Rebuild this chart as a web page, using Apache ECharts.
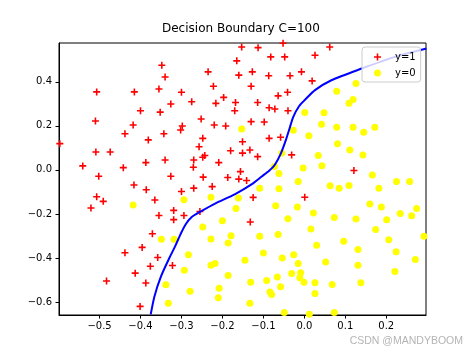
<!DOCTYPE html>
<html>
<head>
<meta charset="utf-8">
<script src="https://cdn.jsdelivr.net/npm/echarts@6/dist/echarts.min.js"></script>
<style>
html,body{margin:0;padding:0;background:#fff;}
#chart{width:474px;height:355px;}
</style>
</head>
<body>
<div id="chart"></div>
<script>
// y=1 samples (red plus)
var posX = [-0.348,-0.340,-0.507,-0.415,-0.355,-0.300,-0.326,-0.400,-0.352,-0.510,-0.418,-0.298,-0.302,-0.438,-0.343,-0.381,-0.597,-0.509,-0.474,-0.340,-0.541,-0.442,-0.387,-0.502,-0.326,-0.416,-0.386,-0.507,-0.491,-0.521,-0.365,-0.355,-0.319,-0.319,-0.371,-0.396,-0.438,-0.358,-0.376,-0.322,-0.413,-0.483,-0.387,-0.401,-0.153,-0.113,-0.052,-0.165,-0.082,-0.048,-0.235,-0.160,-0.127,-0.087,-0.035,-0.222,-0.130,-0.275,-0.216,-0.197,-0.168,-0.170,-0.114,-0.064,-0.041,-0.086,-0.072,-0.040,-0.252,-0.220,-0.192,-0.130,-0.098,-0.248,-0.257,-0.151,-0.086,-0.058,-0.180,-0.151,-0.133,-0.114,-0.031,-0.243,-0.248,-0.270,-0.271,-0.209,-0.156,-0.247,-0.187,-0.160,-0.141,-0.300,-0.270,-0.225,-0.125,-0.294,-0.255,-0.132,0.062,0.026,-0.007,0.019,0.121,0.001];
var posY = [0.475,0.422,0.354,0.354,0.367,0.352,0.299,0.268,0.262,0.222,0.204,0.199,0.181,0.164,0.164,0.136,0.119,0.081,0.081,0.045,0.018,0.010,0.033,-0.029,-0.029,-0.069,-0.090,-0.122,-0.143,-0.173,-0.137,-0.207,-0.184,-0.226,-0.290,-0.352,-0.376,-0.398,-0.438,-0.434,-0.469,-0.505,-0.514,-0.620,0.558,0.555,0.575,0.495,0.513,0.513,0.445,0.430,0.445,0.427,0.427,0.380,0.380,0.309,0.302,0.329,0.306,0.268,0.306,0.336,0.352,0.282,0.276,0.268,0.231,0.204,0.199,0.219,0.217,0.143,0.105,0.128,0.143,0.148,0.087,0.076,0.090,0.060,0.068,0.065,0.057,0.045,0.012,0.033,-0.008,-0.033,-0.035,-0.042,-0.048,-0.098,-0.083,-0.076,-0.125,-0.207,-0.189,-0.237,0.558,0.520,0.445,0.404,-0.003,-0.124];

// y=0 samples (yellow dots)
var negX = [-0.418,-0.349,-0.318,-0.338,-0.332,-0.133,-0.049,0.012,0.073,-0.153,-0.027,-0.055,-0.073,-0.062,-0.015,-0.062,-0.109,-0.294,-0.228,-0.161,-0.167,-0.070,-0.017,-0.200,-0.040,-0.248,-0.109,-0.064,-0.179,-0.228,-0.186,-0.283,-0.100,-0.026,-0.054,-0.145,-0.218,-0.228,-0.015,-0.293,-0.186,-0.031,-0.066,-0.009,-0.011,-0.001,-0.131,-0.092,-0.058,-0.208,-0.279,-0.084,-0.080,-0.210,0.026,0.026,0.126,0.079,0.119,0.109,0.001,0.048,0.042,0.079,0.119,0.145,0.172,0.011,0.081,0.111,0.034,0.143,-0.003,0.043,0.166,0.063,0.085,0.109,0.182,0.225,0.257,0.022,0.073,0.126,0.160,0.188,0.201,0.234,0.262,0.274,0.174,0.016,0.292,0.096,0.206,0.030,0.131,0.224,0.271,0.052,0.131,0.221,0.068,0.138];
var negY = [-0.160,-0.315,-0.315,-0.522,-0.606,-0.606,-0.648,-0.656,-0.648,0.186,0.180,0.077,0.015,-0.017,-0.053,-0.086,-0.084,-0.136,-0.124,-0.128,-0.176,-0.163,-0.169,-0.231,-0.222,-0.259,-0.302,-0.294,-0.299,-0.314,-0.332,-0.385,-0.377,-0.385,-0.400,-0.410,-0.425,-0.433,-0.425,-0.456,-0.480,-0.471,-0.486,-0.467,-0.490,-0.510,-0.510,-0.502,-0.531,-0.538,-0.551,-0.555,-0.566,-0.581,-0.513,-0.561,0.392,0.357,0.320,0.302,0.261,0.259,0.207,0.193,0.193,0.171,0.193,0.155,0.118,0.090,0.065,0.068,0.008,0.019,-0.023,-0.072,-0.083,-0.071,-0.083,-0.053,-0.053,-0.196,-0.216,-0.223,-0.155,-0.169,-0.226,-0.198,-0.208,-0.176,-0.271,-0.268,-0.302,-0.324,-0.317,-0.342,-0.362,-0.372,-0.407,-0.418,-0.433,-0.462,-0.520,-0.513];

// decision boundary contour
var boundX = [-0.375,-0.366,-0.350,-0.329,-0.315,-0.303,-0.290,-0.275,-0.255,-0.218,-0.170,-0.129,-0.104,-0.086,-0.072,-0.057,-0.045,-0.036,-0.027,-0.013,0.001,0.026,0.066,0.140,0.221,0.298];
var boundY = [-0.656,-0.575,-0.484,-0.398,-0.345,-0.295,-0.248,-0.214,-0.191,-0.153,-0.111,-0.066,-0.030,-0.004,0.023,0.076,0.136,0.189,0.241,0.289,0.317,0.362,0.407,0.460,0.513,0.551];

var xTicks = [-0.5,-0.4,-0.3,-0.2,-0.1,0.0,0.1,0.2];
var yTicks = [-0.6,-0.4,-0.2,0.0,0.2,0.4];
var titleText = 'Decision Boundary C=100';
var labelPos = 'y=1', labelNeg = 'y=0';

function zip(a, b) { return a.map(function (v, i) { return [v, b[i]]; }); }
function fmt(v) { return (v < -1e-9 ? '\u2212' : '') + Math.abs(v).toFixed(1); }

var plus = 'path://M3.1,0h1.8v8h-1.8z M0,3.1h8v1.8h-8z';
var font = 'DejaVu Sans';

var chart = echarts.init(document.getElementById('chart'), null, {renderer: 'canvas'});
chart.setOption({
  animation: false,
  backgroundColor: '#ffffff',
  title: {
    text: titleText, left: 162, top: 23, padding: 0,
    textStyle: {fontFamily: font, fontSize: 12, fontWeight: 'normal', color: '#000'}
  },
  legend: {
    orient: 'vertical', left: 362, top: 47,
    padding: [5, 5, 4, 12],
    itemWidth: 7, itemHeight: 7, itemGap: 6,
    backgroundColor: 'rgba(255,255,255,0.8)',
    borderColor: '#cccccc', borderWidth: 1, borderRadius: 3,
    textStyle: {fontFamily: font, fontSize: 10, color: '#000', padding: [0, 0, 0, 9]},
    data: [{name: labelPos, icon: plus}, {name: labelNeg, icon: 'circle'}]
  },
  grid: {left: 59, top: 43, right: 48, bottom: 40, show: true, borderColor: '#000', borderWidth: 1, backgroundColor: 'transparent'},
  xAxis: {
    type: 'value', min: -0.599, max: 0.297,
    splitLine: {show: false},
    axisLine: {show: true, onZero: false, lineStyle: {color: '#000', width: 1}},
    axisTick: {show: true, length: 3.5, lineStyle: {color: '#000'}, customValues: xTicks},
    axisLabel: {fontFamily: font, fontSize: 10, color: '#000', margin: 6, customValues: xTicks, formatter: fmt}
  },
  yAxis: {
    type: 'value', min: -0.659, max: 0.576,
    splitLine: {show: false},
    axisLine: {show: true, onZero: false, lineStyle: {color: '#000', width: 1}},
    axisTick: {show: true, length: 3.5, lineStyle: {color: '#000'}, customValues: yTicks},
    axisLabel: {fontFamily: font, fontSize: 10, color: '#000', margin: 7, customValues: yTicks, formatter: fmt}
  },
  graphic: [{
    type: 'text', right: 11, top: 336,
    style: {text: 'CSDN @MANDYBOOM', fill: '#b4b4b4', font: '10.5px "Liberation Sans", Arial, sans-serif'}
  }],
  series: [
    {
      name: labelPos, type: 'scatter', data: zip(posX, posY),
      symbol: plus, symbolSize: 7, itemStyle: {color: '#ff0000', opacity: 1}, clip: false, z: 2
    },
    {
      name: labelNeg, type: 'scatter', data: zip(negX, negY),
      symbol: 'circle', symbolSize: 7, itemStyle: {color: '#ffff00', opacity: 1}, clip: false, z: 2
    },
    {
      name: 'boundary', type: 'line', data: zip(boundX, boundY),
      showSymbol: false, smooth: 0.25, clip: true,
      lineStyle: {color: '#0000ff', width: 2}, z: 3
    }
  ]
});
</script>
</body>
</html>
